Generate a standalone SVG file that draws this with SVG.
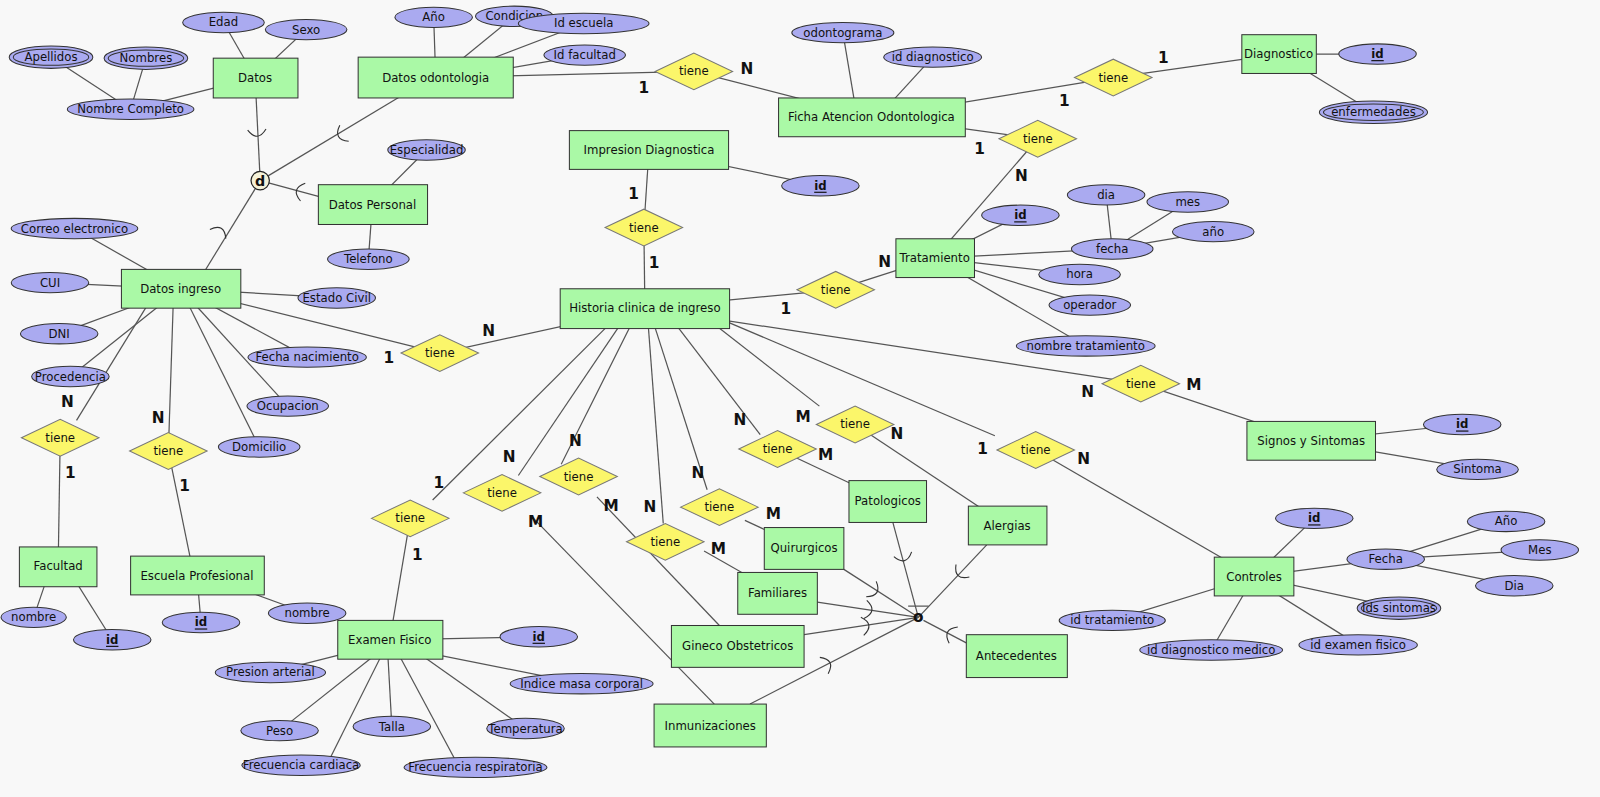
<svg xmlns="http://www.w3.org/2000/svg" width="1600" height="797" viewBox="0 0 1600 797">
<style>
.e rect{fill:#aaf9a6;stroke:#333;stroke-width:1}
.a ellipse{fill:#aaaaf0;stroke:#333;stroke-width:1}
text{font-family:"DejaVu Sans",Verdana,sans-serif;font-size:11.5px;fill:#111;text-anchor:middle;dominant-baseline:central}
.c line{stroke:#555;stroke-width:1.2}
.arc{fill:none;stroke:#333;stroke-width:1.1}
.k{font-size:15px;font-weight:bold;font-family:"DejaVu Sans",sans-serif}
.u{font-weight:bold;text-decoration:underline}
</style>
<defs>
<path id="arc" fill="none" stroke="#333" stroke-width="1.1" d="M 5 -9 Q -8 0 5 9"/>
<polygon id="dia" points="-38,0 0,-18 38,0 0,18" fill="#fbf66a" stroke="#777" stroke-width="1"/>
</defs>
<rect width="1600" height="797" fill="#f8f8f8"/>
<g transform="scale(1.0204)">
<g class="c" id="connectors">
<line x1="250" y1="76" x2="219" y2="22"/><line x1="250" y1="76" x2="300" y2="29"/>
<line x1="250" y1="76" x2="128" y2="107"/><line x1="128" y1="107" x2="50" y2="56"/><line x1="128" y1="107" x2="143" y2="57"/>
<line x1="250" y1="76" x2="255" y2="177"/><line x1="400" y1="90" x2="255" y2="177"/><line x1="340" y1="200" x2="255" y2="177"/><line x1="190" y1="283" x2="255" y2="177"/>
<line x1="427" y1="76" x2="425" y2="17"/><line x1="450" y1="60" x2="504" y2="16"/><line x1="470" y1="62" x2="572" y2="23"/><line x1="480" y1="70" x2="573" y2="54"/>
<line x1="427" y1="76" x2="680" y2="70"/><line x1="680" y1="70" x2="855" y2="115"/>
<line x1="840" y1="115" x2="826" y2="32"/><line x1="860" y1="115" x2="914" y2="56"/>
<line x1="855" y1="115" x2="1091" y2="76"/><line x1="1091" y1="76" x2="1253" y2="53"/>
<line x1="1253" y1="53" x2="1350" y2="53"/><line x1="1253" y1="53" x2="1346" y2="110"/>
<line x1="900" y1="120" x2="1017" y2="136"/><line x1="1017" y1="136" x2="916" y2="253"/>
<line x1="636" y1="147" x2="804" y2="182"/><line x1="636" y1="147" x2="631" y2="223"/><line x1="631" y1="223" x2="632" y2="302"/>
<line x1="365" y1="200" x2="418" y2="147"/><line x1="365" y1="200" x2="361" y2="254"/>
<line x1="177" y1="283" x2="73" y2="224"/><line x1="177" y1="283" x2="49" y2="277"/><line x1="177" y1="283" x2="330" y2="292"/>
<line x1="177" y1="283" x2="58" y2="327"/><line x1="177" y1="283" x2="301" y2="350"/><line x1="177" y1="283" x2="69" y2="369"/>
<line x1="177" y1="283" x2="282" y2="398"/><line x1="177" y1="283" x2="254" y2="438"/>
<line x1="150" y1="290" x2="75" y2="412"/><line x1="170" y1="290" x2="165" y2="442"/><line x1="177" y1="283" x2="431" y2="346"/>
<line x1="431" y1="346" x2="632" y2="302"/>
<line x1="59" y1="429" x2="57" y2="555"/><line x1="165" y1="442" x2="190" y2="564"/>
<line x1="50" y1="555" x2="33" y2="605"/><line x1="65" y1="555" x2="110" y2="627"/>
<line x1="193" y1="564" x2="197" y2="610"/><line x1="230" y1="575" x2="301" y2="601"/>
<line x1="632" y1="302" x2="819" y2="284"/><line x1="819" y1="284" x2="916" y2="253"/>
<line x1="916" y1="253" x2="1000" y2="211"/><line x1="916" y1="253" x2="1090" y2="244"/><line x1="916" y1="253" x2="1058" y2="269"/>
<line x1="916" y1="253" x2="1068" y2="299"/><line x1="916" y1="253" x2="1064" y2="339"/>
<line x1="1090" y1="244" x2="1084" y2="191"/><line x1="1090" y1="244" x2="1164" y2="198"/><line x1="1090" y1="244" x2="1189" y2="227"/>
<line x1="632" y1="302" x2="1118" y2="376"/><line x1="1118" y1="376" x2="1285" y2="432"/>
<line x1="1285" y1="432" x2="1433" y2="416"/><line x1="1285" y1="432" x2="1448" y2="460"/>
<line x1="690" y1="310" x2="803" y2="398"/><line x1="838" y1="416" x2="987" y2="515"/>
<line x1="700" y1="310" x2="975" y2="427"/><line x1="1015" y1="441" x2="1229" y2="565"/>
<line x1="660" y1="315" x2="745" y2="426"/><line x1="762" y1="440" x2="870" y2="491"/>
<line x1="620" y1="315" x2="550" y2="455"/><line x1="585" y1="487" x2="705" y2="613"/>
<line x1="610" y1="315" x2="508" y2="466"/><line x1="520" y1="505" x2="700" y2="690"/>
<line x1="640" y1="315" x2="693" y2="480"/><line x1="730" y1="510" x2="788" y2="537"/>
<line x1="635" y1="315" x2="650" y2="513"/><line x1="690" y1="540" x2="762" y2="581"/>
<line x1="600" y1="315" x2="424" y2="490"/><line x1="402" y1="508" x2="382" y2="627"/>
<line x1="382" y1="627" x2="528" y2="624"/><line x1="360" y1="635" x2="265" y2="659"/><line x1="420" y1="640" x2="570" y2="670"/>
<line x1="370" y1="640" x2="274" y2="716"/><line x1="380" y1="640" x2="384" y2="712"/><line x1="410" y1="640" x2="515" y2="714"/>
<line x1="375" y1="640" x2="320" y2="750"/><line x1="390" y1="640" x2="450" y2="752"/>
<line x1="1229" y1="565" x2="1288" y2="508"/><line x1="1229" y1="565" x2="1358" y2="548"/><line x1="1229" y1="565" x2="1371" y2="596"/>
<line x1="1229" y1="565" x2="1090" y2="608"/><line x1="1229" y1="565" x2="1187" y2="637"/><line x1="1240" y1="575" x2="1331" y2="632"/>
<line x1="1358" y1="548" x2="1476" y2="511"/><line x1="1358" y1="548" x2="1509" y2="539"/><line x1="1358" y1="548" x2="1484" y2="574"/>
<line x1="900" y1="605" x2="875" y2="512"/><line x1="900" y1="605" x2="967" y2="534"/><line x1="900" y1="605" x2="827" y2="558"/>
<line x1="900" y1="605" x2="801" y2="590"/><line x1="900" y1="605" x2="788" y2="622"/><line x1="905" y1="608" x2="947" y2="630"/>
<line x1="900" y1="605" x2="735" y2="690"/>
<line x1="890" y1="594" x2="910" y2="594"/>
</g>
<g id="arcs">
<use href="#arc" transform="translate(252,132) rotate(-93.5)"/>
<use href="#arc" transform="translate(333,133) rotate(-29)"/>
<use href="#arc" transform="translate(292,187) rotate(15)"/>
<use href="#arc" transform="translate(216,225) rotate(120)"/>
<use href="#arc" transform="translate(886,548) rotate(-105)"/>
<use href="#arc" transform="translate(940,563) rotate(-46.7)"/>
<use href="#arc" transform="translate(858,580) rotate(-147)"/>
<use href="#arc" transform="translate(853,598) rotate(-171)"/>
<use href="#arc" transform="translate(850,613) rotate(171)"/>
<use href="#arc" transform="translate(930,620) rotate(28)"/>
<use href="#arc" transform="translate(812,650) rotate(153)"/>
</g>
<g id="d"><circle cx="255" cy="177" r="9" fill="#f5f2d8" stroke="#222" stroke-width="1.2"/><text x="255" y="177" style="font-weight:bold;font-size:14px">d</text></g>
<g id="o"><text x="900" y="605" style="font-weight:bold;font-size:15px">o</text></g>
<g class="e">
<g id="datos"><rect x="209" y="57" width="83" height="39"/><text x="250" y="76">Datos</text></g>
<g id="datos-odonto"><rect x="351" y="56" width="152" height="40"/><text x="427" y="76">Datos odontologia</text></g>
<g id="ficha"><rect x="763" y="96" width="183" height="38"/><text x="854" y="115">Ficha Atencion Odontologica</text></g>
<g id="diagnostico"><rect x="1217" y="34" width="73" height="38"/><text x="1253" y="53">Diagnostico</text></g>
<g id="impresion"><rect x="558" y="128" width="156" height="38"/><text x="636" y="147">Impresion Diagnostica</text></g>
<g id="datos-personal"><rect x="312" y="181" width="107" height="39"/><text x="365" y="201">Datos Personal</text></g>
<g id="datos-ingreso"><rect x="119" y="264" width="117" height="38"/><text x="177" y="283">Datos ingreso</text></g>
<g id="historia"><rect x="549" y="283" width="166" height="39"/><text x="632" y="302">Historia clinica de ingreso</text></g>
<g id="tratamiento"><rect x="878" y="234" width="77" height="38"/><text x="916" y="253">Tratamiento</text></g>
<g id="signos"><rect x="1222" y="413" width="126" height="38"/><text x="1285" y="432">Signos y Sintomas</text></g>
<g id="patologicos"><rect x="832" y="471" width="76" height="41"/><text x="870" y="491">Patologicos</text></g>
<g id="alergias"><rect x="949" y="496" width="77" height="38"/><text x="987" y="515">Alergias</text></g>
<g id="quirurgicos"><rect x="749" y="517" width="78" height="41"/><text x="788" y="537">Quirurgicos</text></g>
<g id="familiares"><rect x="723" y="561" width="78" height="41"/><text x="762" y="581">Familiares</text></g>
<g id="gineco"><rect x="658" y="613" width="130" height="41"/><text x="723" y="633">Gineco Obstetricos</text></g>
<g id="antecedentes"><rect x="947" y="622" width="99" height="42"/><text x="996" y="643">Antecedentes</text></g>
<g id="inmunizaciones"><rect x="641" y="690" width="110" height="42"/><text x="696" y="711">Inmunizaciones</text></g>
<g id="controles"><rect x="1190" y="546" width="78" height="38"/><text x="1229" y="565">Controles</text></g>
<g id="facultad"><rect x="19" y="536" width="76" height="39"/><text x="57" y="555">Facultad</text></g>
<g id="escuela"><rect x="128" y="545" width="131" height="38"/><text x="193" y="564">Escuela Profesional</text></g>
<g id="examen"><rect x="331" y="608" width="103" height="38"/><text x="382" y="627">Examen Fisico</text></g>
</g>
<g class="r">
<g id="r1"><use href="#dia" x="680" y="70"/><text x="680" y="70">tiene</text></g>
<g id="r2"><use href="#dia" x="1091" y="76"/><text x="1091" y="76">tiene</text></g>
<g id="r3"><use href="#dia" x="1017" y="136"/><text x="1017" y="136">tiene</text></g>
<g id="r4"><use href="#dia" x="631" y="223"/><text x="631" y="223">tiene</text></g>
<g id="r5"><use href="#dia" x="819" y="284"/><text x="819" y="284">tiene</text></g>
<g id="r6"><use href="#dia" x="431" y="346"/><text x="431" y="346">tiene</text></g>
<g id="r7"><use href="#dia" x="1118" y="376"/><text x="1118" y="376">tiene</text></g>
<g id="r8"><use href="#dia" x="838" y="416"/><text x="838" y="416">tiene</text></g>
<g id="r9"><use href="#dia" x="1015" y="441"/><text x="1015" y="441">tiene</text></g>
<g id="r10"><use href="#dia" x="762" y="440"/><text x="762" y="440">tiene</text></g>
<g id="r11"><use href="#dia" x="567" y="467"/><text x="567" y="467">tiene</text></g>
<g id="r12"><use href="#dia" x="492" y="483"/><text x="492" y="483">tiene</text></g>
<g id="r13"><use href="#dia" x="705" y="497"/><text x="705" y="497">tiene</text></g>
<g id="r14"><use href="#dia" x="652" y="531"/><text x="652" y="531">tiene</text></g>
<g id="r15"><use href="#dia" x="402" y="508"/><text x="402" y="508">tiene</text></g>
<g id="r16"><use href="#dia" x="59" y="429"/><text x="59" y="429">tiene</text></g>
<g id="r17"><use href="#dia" x="165" y="442"/><text x="165" y="442">tiene</text></g>
</g>
<g class="a">
<g><ellipse cx="219" cy="22" rx="40" ry="10"/><text x="219" y="22">Edad</text></g>
<g><ellipse cx="300" cy="29" rx="40" ry="10"/><text x="300" y="29">Sexo</text></g>
<g><ellipse cx="50" cy="56" rx="41" ry="11"/><ellipse cx="50" cy="56" rx="37" ry="8"/><text x="50" y="56">Apellidos</text></g>
<g><ellipse cx="143" cy="57" rx="41" ry="11"/><ellipse cx="143" cy="57" rx="37" ry="8"/><text x="143" y="57">Nombres</text></g>
<g><ellipse cx="128" cy="107" rx="62" ry="10"/><text x="128" y="107">Nombre Completo</text></g>
<g><ellipse cx="425" cy="17" rx="38" ry="10"/><text x="425" y="17">Año</text></g>
<g><ellipse cx="504" cy="16" rx="38" ry="10"/><text x="504" y="16">Condicion</text></g>
<g><ellipse cx="572" cy="23" rx="64" ry="10"/><text x="572" y="23">Id escuela</text></g>
<g><ellipse cx="573" cy="54" rx="40" ry="10"/><text x="573" y="54">Id facultad</text></g>
<g><ellipse cx="826" cy="32" rx="50" ry="10"/><text x="826" y="32">odontograma</text></g>
<g><ellipse cx="914" cy="56" rx="48" ry="10"/><text x="914" y="56">id diagnostico</text></g>
<g><ellipse cx="1350" cy="53" rx="38" ry="10"/><text x="1350" y="53" class="u">id</text></g>
<g><ellipse cx="1346" cy="110" rx="53" ry="11"/><ellipse cx="1346" cy="110" rx="49" ry="8"/><text x="1346" y="110">enfermedades</text></g>
<g><ellipse cx="418" cy="147" rx="38" ry="10"/><text x="418" y="147">Especialidad</text></g>
<g><ellipse cx="804" cy="182" rx="38" ry="10"/><text x="804" y="182" class="u">id</text></g>
<g><ellipse cx="361" cy="254" rx="40" ry="10"/><text x="361" y="254">Telefono</text></g>
<g><ellipse cx="73" cy="224" rx="62" ry="10"/><text x="73" y="224">Correo electronico</text></g>
<g><ellipse cx="49" cy="277" rx="38" ry="10"/><text x="49" y="277">CUI</text></g>
<g><ellipse cx="330" cy="292" rx="38" ry="10"/><text x="330" y="292">Estado Civil</text></g>
<g><ellipse cx="58" cy="327" rx="38" ry="10"/><text x="58" y="327">DNI</text></g>
<g><ellipse cx="301" cy="350" rx="58" ry="10"/><text x="301" y="350">Fecha nacimiento</text></g>
<g><ellipse cx="69" cy="369" rx="38" ry="10"/><text x="69" y="369">Procedencia</text></g>
<g><ellipse cx="282" cy="398" rx="40" ry="10"/><text x="282" y="398">Ocupacion</text></g>
<g><ellipse cx="254" cy="438" rx="40" ry="10"/><text x="254" y="438">Domicilio</text></g>
<g><ellipse cx="1000" cy="211" rx="38" ry="10"/><text x="1000" y="211" class="u">id</text></g>
<g><ellipse cx="1084" cy="191" rx="38" ry="10"/><text x="1084" y="191">dia</text></g>
<g><ellipse cx="1164" cy="198" rx="40" ry="10"/><text x="1164" y="198">mes</text></g>
<g><ellipse cx="1090" cy="244" rx="40" ry="10"/><text x="1090" y="244">fecha</text></g>
<g><ellipse cx="1189" cy="227" rx="40" ry="10"/><text x="1189" y="227">año</text></g>
<g><ellipse cx="1058" cy="269" rx="40" ry="10"/><text x="1058" y="269">hora</text></g>
<g><ellipse cx="1068" cy="299" rx="40" ry="10"/><text x="1068" y="299">operador</text></g>
<g><ellipse cx="1064" cy="339" rx="68" ry="10"/><text x="1064" y="339">nombre tratamiento</text></g>
<g><ellipse cx="1433" cy="416" rx="38" ry="10"/><text x="1433" y="416" class="u">id</text></g>
<g><ellipse cx="1448" cy="460" rx="40" ry="10"/><text x="1448" y="460">Sintoma</text></g>
<g><ellipse cx="1288" cy="508" rx="38" ry="10"/><text x="1288" y="508" class="u">id</text></g>
<g><ellipse cx="1476" cy="511" rx="38" ry="10"/><text x="1476" y="511">Año</text></g>
<g><ellipse cx="1358" cy="548" rx="38" ry="10"/><text x="1358" y="548">Fecha</text></g>
<g><ellipse cx="1509" cy="539" rx="38" ry="10"/><text x="1509" y="539">Mes</text></g>
<g><ellipse cx="1484" cy="574" rx="38" ry="10"/><text x="1484" y="574">Dia</text></g>
<g><ellipse cx="1371" cy="596" rx="41" ry="11"/><ellipse cx="1371" cy="596" rx="37" ry="8"/><text x="1371" y="596">Ids sintomas</text></g>
<g><ellipse cx="1090" cy="608" rx="52" ry="10"/><text x="1090" y="608">id tratamiento</text></g>
<g><ellipse cx="1187" cy="637" rx="70" ry="10"/><text x="1187" y="637">id diagnostico medico</text></g>
<g><ellipse cx="1331" cy="632" rx="58" ry="10"/><text x="1331" y="632">id examen fisico</text></g>
<g><ellipse cx="33" cy="605" rx="32" ry="10"/><text x="33" y="605">nombre</text></g>
<g><ellipse cx="110" cy="627" rx="38" ry="10"/><text x="110" y="627" class="u">id</text></g>
<g><ellipse cx="197" cy="610" rx="38" ry="10"/><text x="197" y="610" class="u">id</text></g>
<g><ellipse cx="301" cy="601" rx="38" ry="10"/><text x="301" y="601">nombre</text></g>
<g><ellipse cx="528" cy="624" rx="38" ry="10"/><text x="528" y="624" class="u">id</text></g>
<g><ellipse cx="265" cy="659" rx="54" ry="10"/><text x="265" y="659">Presion arterial</text></g>
<g><ellipse cx="570" cy="670" rx="70" ry="10"/><text x="570" y="670">Indice masa corporal</text></g>
<g><ellipse cx="274" cy="716" rx="38" ry="10"/><text x="274" y="716">Peso</text></g>
<g><ellipse cx="384" cy="712" rx="38" ry="10"/><text x="384" y="712">Talla</text></g>
<g><ellipse cx="515" cy="714" rx="38" ry="10"/><text x="515" y="714">Temperatura</text></g>
<g><ellipse cx="295" cy="750" rx="58" ry="10"/><text x="295" y="750">Frecuencia cardiaca</text></g>
<g><ellipse cx="466" cy="752" rx="70" ry="10"/><text x="466" y="752">Frecuencia respiratoria</text></g>
</g>
<g id="card">
<text class="k" x="732" y="68">N</text><text class="k" x="631" y="86">1</text><text class="k" x="1140" y="57">1</text>
<text class="k" x="1043" y="99">1</text><text class="k" x="960" y="146">1</text><text class="k" x="1001" y="172">N</text>
<text class="k" x="621" y="190">1</text><text class="k" x="641" y="258">1</text><text class="k" x="867" y="257">N</text>
<text class="k" x="770" y="303">1</text><text class="k" x="479" y="324">N</text><text class="k" x="381" y="351">1</text>
<text class="k" x="1066" y="384">N</text><text class="k" x="1170" y="377">M</text><text class="k" x="66" y="394">N</text>
<text class="k" x="69" y="464">1</text><text class="k" x="155" y="410">N</text><text class="k" x="181" y="476">1</text>
<text class="k" x="725" y="412">N</text><text class="k" x="787" y="409">M</text><text class="k" x="879" y="425">N</text>
<text class="k" x="809" y="446">M</text><text class="k" x="963" y="440">1</text><text class="k" x="1062" y="450">N</text>
<text class="k" x="564" y="432">N</text><text class="k" x="599" y="496">M</text><text class="k" x="499" y="448">N</text>
<text class="k" x="525" y="512">M</text><text class="k" x="684" y="464">N</text><text class="k" x="758" y="504">M</text>
<text class="k" x="637" y="497">N</text><text class="k" x="704" y="538">M</text><text class="k" x="430" y="473">1</text>
<text class="k" x="409" y="544">1</text>
</g>
</g>
</svg>
